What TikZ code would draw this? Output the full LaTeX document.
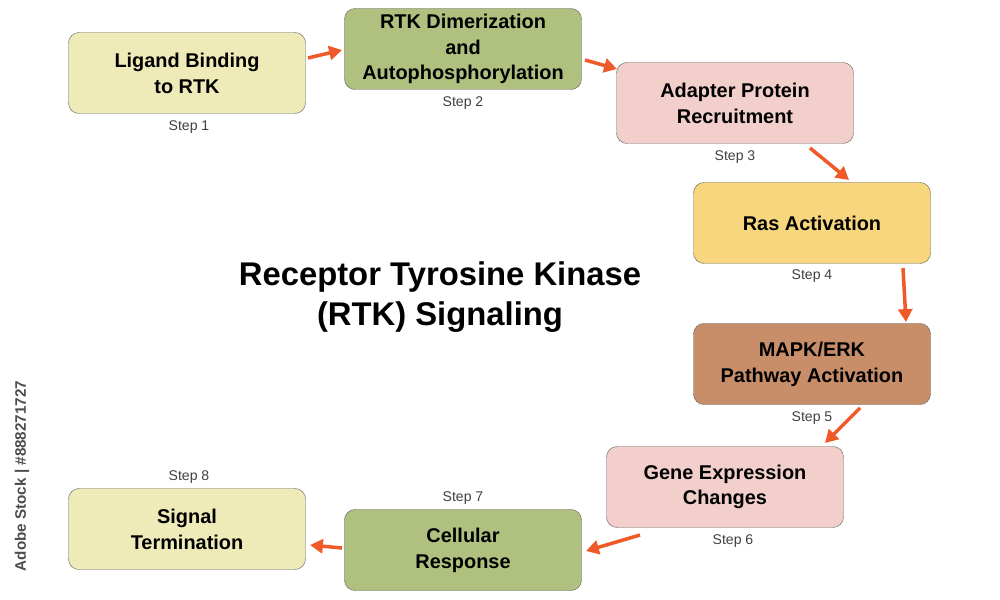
\documentclass[tikz,border=0pt]{standalone}
\usepackage{fontspec}
\setmainfont{Liberation Sans}
\usetikzlibrary{arrows.meta}
\definecolor{paleyel}{HTML}{EFEBB8}
\definecolor{sage}{HTML}{AFC07F}
\definecolor{rosy}{HTML}{F2CFCB}
\definecolor{gold}{HTML}{F8D67E}
\definecolor{tan}{HTML}{C88E69}
\definecolor{flame}{HTML}{F05A28}
\tikzset{
  stepbox/.style={draw=black!60, rounded corners=9pt, minimum width=7.11cm, minimum height=2.43cm,
    align=center, font=\fontsize{17}{22}\selectfont\bfseries, inner sep=2pt},
  lbl/.style={font=\fontsize{12}{14}\selectfont, text=black!75},
  flow/.style={-{Triangle[length=11pt,width=12pt]}, line width=3pt, flame}
}
\begin{document}
\begin{tikzpicture}[x=0.03cm,y=-0.03cm]
\useasboundingbox (0,0) rectangle (1000,600);
%      boxes
\node [stepbox, fill=paleyel] (lig) at (187,73) {Ligand Binding\\to RTK};
\node [stepbox, fill=sage] (dim) at (463,49) {RTK Dimerization\\and\\Autophosphorylation};
\node [stepbox, fill=rosy] (adp) at (735,103) {Adapter Protein\\Recruitment};
\node [stepbox, fill=gold] (ras) at (812,223) {Ras Activation};
\node [stepbox, fill=tan] (mapk) at (812,364) {MAPK/ERK\\Pathway Activation};
\node [stepbox, fill=rosy] (gene) at (725,487) {Gene Expression\\Changes};
\node [stepbox, fill=sage] (cell) at (463,550) {Cellular\\Response};
\node [stepbox, fill=paleyel] (term) at (187,529) {Signal\\Termination};
%      step labels
\node [lbl] (s1) at (189,127) {Step 1};
\node [lbl] (s2) at (463,103) {Step 2};
\node [lbl] (s3) at (735,157) {Step 3};
\node [lbl] (s4) at (812,276) {Step 4};
\node [lbl] (s5) at (812,418) {Step 5};
\node [lbl] (s6) at (733,541) {Step 6};
\node [lbl] (s7) at (463,498) {Step 7};
\node [lbl] (s8) at (189,477) {Step 8};
%      title
\node [align=center, font=\fontsize{28}{34}\selectfont\bfseries] (title) at (440,297)
  {Receptor Tyrosine Kinase\\(RTK) Signaling};
\node [rotate=90, font=\fontsize{13}{15}\selectfont\bfseries, text=black!70] (stock) at (22,476)
  {Adobe Stock | \#888271727};
%      arrows
\coordinate (a1) at (308,58); \coordinate (b1) at (342,50);
\coordinate (a2) at (585,60); \coordinate (b2) at (617,69);
\coordinate (a3) at (810,148); \coordinate (b3) at (849,180);
\coordinate (a4) at (903,268); \coordinate (b4) at (906,322);
\coordinate (a5) at (860,408); \coordinate (b5) at (825,443);
\coordinate (a6) at (640,535); \coordinate (b6) at (586,551);
\coordinate (a7) at (342,548); \coordinate (b7) at (310,545);
\foreach \i in {1,...,7} \draw [flow] (a\i) -- (b\i);
\end{tikzpicture}
\end{document}
